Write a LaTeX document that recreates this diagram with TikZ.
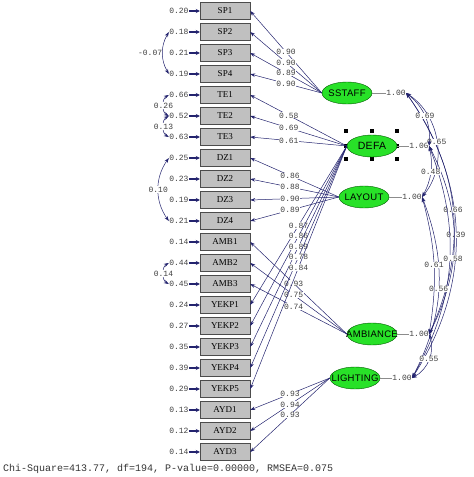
\documentclass[tikz,border=0pt]{standalone}
\usepackage{fontspec}
\setmainfont{Liberation Serif}
\setmonofont{Liberation Mono}
\newfontfamily\latfont{Liberation Sans}[LetterSpace=3]
\usetikzlibrary{shapes.geometric,arrows.meta}

\definecolor{pathblue}{RGB}{35,35,110}
\definecolor{boxgray}{RGB}{192,192,192}
\definecolor{latgreen}{RGB}{40,225,40}

\tikzset{
  obs/.style={draw=black!70, fill=boxgray, minimum width=50pt, minimum height=17pt, inner sep=0pt, font=\fontsize{9}{10}\selectfont},
  latent/.style={ellipse, draw=green!35!black, fill=latgreen, minimum width=50pt, minimum height=22pt, inner sep=0pt, font=\latfont\fontsize{9.5}{10}\selectfont},
  coef/.style={font=\ttfamily\fontsize{8}{9}\selectfont, text=black!75, fill=white, inner sep=0.3pt},
  errlab/.style={font=\ttfamily\fontsize{8}{9}\selectfont, text=black!75, inner sep=0.3pt, anchor=east},
  load/.style={draw=pathblue, line width=0.5pt, -{Stealth[length=5pt,width=3.5pt]}},
  errarr/.style={draw=pathblue, line width=1.1pt, -{Stealth[length=4pt,width=4pt]}},
  cov/.style={draw=pathblue, line width=0.5pt, {Stealth[length=5pt,width=3.5pt]}-{Stealth[length=5pt,width=3.5pt]}},
  tie/.style={draw=black!45, line width=0.4pt},
}

\begin{document}
\begin{tikzpicture}[x=1pt,y=-1pt]
\useasboundingbox (0,0) rectangle (474,477);

% observed variables and error variances
\foreach \n/\v [count=\i] in {SP1/0.20,SP2/0.18,SP3/0.21,SP4/0.19,TE1/0.66,TE2/0.52,TE3/0.63,
    DZ1/0.25,DZ2/0.23,DZ3/0.19,DZ4/0.21,AMB1/0.14,AMB2/0.44,AMB3/0.45,
    YEKP1/0.24,YEKP2/0.27,YEKP3/0.35,YEKP4/0.39,YEKP5/0.29,AYD1/0.13,AYD2/0.12,AYD3/0.14}{
  \pgfmathsetmacro\yy{11+21*(\i-1)}
  \node[obs] (o\i) at (225,\yy) {\n};
  \node[errlab] (e\i) at (189,\yy) {\v};
  \draw[errarr] (e\i.east) -- (o\i.west);
}

% error covariances
\draw[cov] (e2.west) to[bend right=30] node[coef, anchor=east, fill=none] {-0.07} (e4.west);
\draw[cov] (e5.west) to[bend right=60] node[coef] {0.26} (e6.west);
\draw[cov] (e6.west) to[bend right=60] node[coef] {0.13} (e7.west);
\draw[cov] (e8.west) to[bend right=35] node[coef] {0.10} (e11.west);
\draw[cov] (e13.west) to[bend right=60] node[coef] {0.14} (e14.west);

% selection handles
\foreach \p in {(346,131),(372,131),(397,131),(346,159),(372,159),(397,159),(346,146),(397,146)}
  \fill \p ++(-2,-2) rectangle ++(4,4);

% latent variables
\node[latent] (sstaff) at (347,93) {\makebox[0pt]{SSTAFF}};
\node[latent] (defa) at (372,146) {\makebox[0pt]{\fontsize{10.5}{11}\selectfont DEFA}};
\node[latent] (layout) at (364,197) {\makebox[0pt]{LAYOUT}};
\node[latent] (amb) at (372,334) {\makebox[0pt]{AMBIANCE}};
\node[latent] (light) at (355,378) {\makebox[0pt]{LIGHTING}};

\node[errlab, anchor=center] (v1) at (396,93) {1.00};
\node[errlab, anchor=center] (v2) at (419,146) {1.00};
\node[errlab, anchor=center] (v3) at (412,197) {1.00};
\node[errlab, anchor=center] (v4) at (419,334) {1.00};
\node[errlab, anchor=center] (v5) at (402,378) {1.00};
\draw[tie] (sstaff.east) -- (v1.west);
\draw[tie] (defa.east) -- (v2.west);
\draw[tie] (layout.east) -- (v3.west);
\draw[tie] (amb.east) -- (v4.west);
\draw[tie] (light.east) -- (v5.west);

% loadings
\foreach \j/\v in {1/0.90,2/0.90,3/0.89,4/0.90}
  \draw[load] (sstaff.west) -- node[coef, pos=0.5] {\v} (o\j.east);
\foreach \j/\v in {5/0.58,6/0.69,7/0.61}
  \draw[load] (defa.west) -- node[coef, pos=0.6] {\v} (o\j.east);
\foreach \j/\v in {8/0.86,9/0.88,10/0.90,11/0.89}
  \draw[load] (layout.west) -- node[coef, pos=0.55] {\v} (o\j.east);
\foreach \j/\v in {12/0.93,13/0.75,14/0.74}
  \draw[load] (amb.west) -- node[coef, pos=0.55] {\v} (o\j.east);
\foreach \j/\v in {15/0.87,16/0.86,17/0.89,18/0.78,19/0.84}
  \draw[load] (defa.west) -- node[coef, pos=0.5] {\v} (o\j.east);
\foreach \j/\v in {20/0.93,21/0.94,22/0.93}
  \draw[load] (light.west) -- node[coef, pos=0.5] {\v} (o\j.east);

% factor correlations
\draw[cov] (v1.east) to[bend left=34] node[coef] {0.39} (v5.east);
\draw[cov] (v1.east) to[bend left=30] node[coef] {0.66} (v4.east);
\draw[cov] (v2.east) to[bend left=25] (v5.east);
\draw[cov] (v2.east) to[bend left=27] node[coef, pos=0.6] {0.58} (v4.east);
\draw[cov] (v1.east) to[bend left=48] node[coef] {0.65} (v3.east);
\draw[cov] (v1.east) to[bend left=28] node[coef] {0.69} (v2.east);
\draw[cov] (v3.east) to[bend left=24] node[coef] {0.56} (v5.east);
\draw[cov] (v3.east) to[bend left=12] node[coef] {0.61} (v4.east);
\draw[cov] (v2.east) to[bend left=20] node[coef] {0.48} (v3.east);
\draw[cov] (v4.east) to[bend left=40] node[coef] {0.55} (v5.east);

\node[anchor=west, font=\ttfamily\fontsize{10}{12}\selectfont, text=black!80, inner sep=0pt] (fit) at (3,469)
  {Chi-Square=413.77, df=194, P-value=0.00000, RMSEA=0.075};
\end{tikzpicture}
\end{document}
